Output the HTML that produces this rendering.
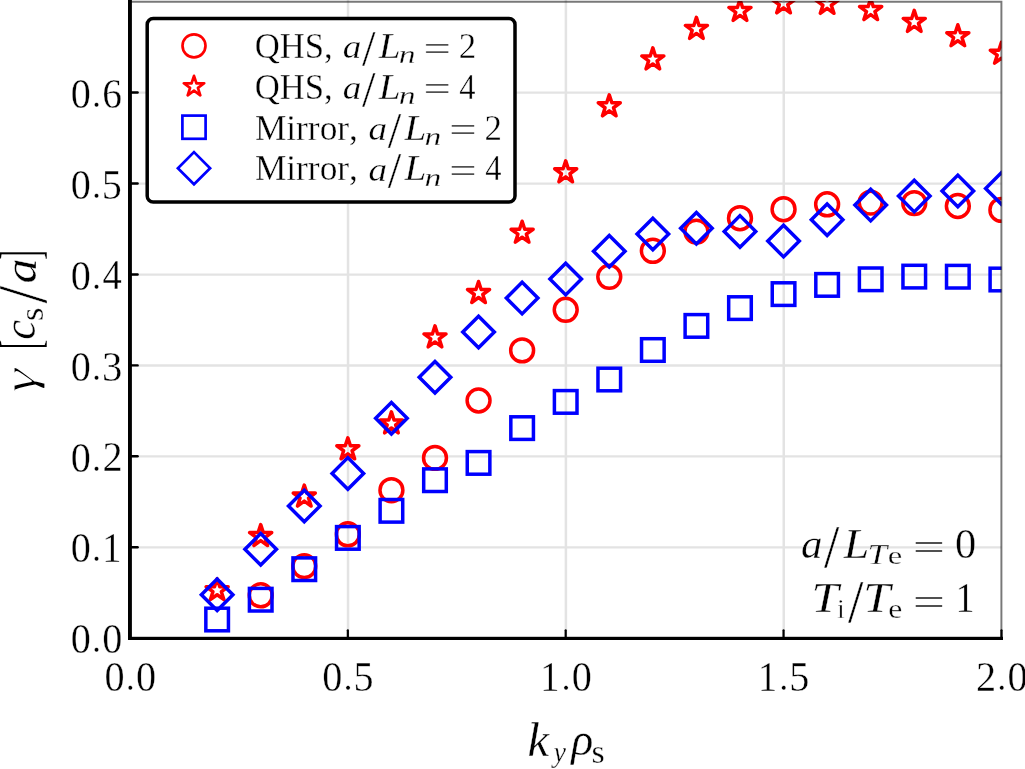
<!DOCTYPE html>
<html><head><meta charset="utf-8"><title>Growth rate plot</title>
<style>html,body{margin:0;padding:0;background:#fff;overflow:hidden}svg{display:block}</style>
</head><body>
<svg width="1025" height="769" viewBox="0 0 1025 769">
<defs><clipPath id="ax"><rect x="130.00" y="1.0" width="871.50" height="637.20"/></clipPath></defs>
<rect width="1025" height="769" fill="#fff"/>
<g font-family="'Liberation Serif', serif" fill="#000" style="font-kerning:none">
<line x1="348.05" y1="0" x2="348.05" y2="638.20" stroke="#e3e3e3" stroke-width="2.5"/>
<line x1="565.90" y1="0" x2="565.90" y2="638.20" stroke="#e3e3e3" stroke-width="2.5"/>
<line x1="783.75" y1="0" x2="783.75" y2="638.20" stroke="#e3e3e3" stroke-width="2.5"/>
<line x1="130.00" y1="547.36" x2="1001.40" y2="547.36" stroke="#e3e3e3" stroke-width="2.3"/>
<line x1="130.00" y1="456.42" x2="1001.40" y2="456.42" stroke="#e3e3e3" stroke-width="2.3"/>
<line x1="130.00" y1="365.48" x2="1001.40" y2="365.48" stroke="#e3e3e3" stroke-width="2.3"/>
<line x1="130.00" y1="274.54" x2="1001.40" y2="274.54" stroke="#e3e3e3" stroke-width="2.3"/>
<line x1="130.00" y1="183.60" x2="1001.40" y2="183.60" stroke="#e3e3e3" stroke-width="2.3"/>
<line x1="130.00" y1="92.66" x2="1001.40" y2="92.66" stroke="#e3e3e3" stroke-width="2.3"/>
<g clip-path="url(#ax)">
<circle cx="260.71" cy="595.30" r="11.45" fill="none" stroke="#ff0000" stroke-width="3.5"/>
<circle cx="304.28" cy="566.10" r="11.45" fill="none" stroke="#ff0000" stroke-width="3.5"/>
<circle cx="347.85" cy="534.30" r="11.45" fill="none" stroke="#ff0000" stroke-width="3.5"/>
<circle cx="391.42" cy="490.20" r="11.45" fill="none" stroke="#ff0000" stroke-width="3.5"/>
<circle cx="434.99" cy="457.90" r="11.45" fill="none" stroke="#ff0000" stroke-width="3.5"/>
<circle cx="478.56" cy="400.50" r="11.45" fill="none" stroke="#ff0000" stroke-width="3.5"/>
<circle cx="522.13" cy="350.40" r="11.45" fill="none" stroke="#ff0000" stroke-width="3.5"/>
<circle cx="565.70" cy="309.80" r="11.45" fill="none" stroke="#ff0000" stroke-width="3.5"/>
<circle cx="609.27" cy="276.80" r="11.45" fill="none" stroke="#ff0000" stroke-width="3.5"/>
<circle cx="652.84" cy="250.80" r="11.45" fill="none" stroke="#ff0000" stroke-width="3.5"/>
<circle cx="696.41" cy="231.60" r="11.45" fill="none" stroke="#ff0000" stroke-width="3.5"/>
<circle cx="739.98" cy="218.20" r="11.45" fill="none" stroke="#ff0000" stroke-width="3.5"/>
<circle cx="783.55" cy="209.20" r="11.45" fill="none" stroke="#ff0000" stroke-width="3.5"/>
<circle cx="827.12" cy="204.30" r="11.45" fill="none" stroke="#ff0000" stroke-width="3.5"/>
<circle cx="870.69" cy="202.60" r="11.45" fill="none" stroke="#ff0000" stroke-width="3.5"/>
<circle cx="914.26" cy="203.10" r="11.45" fill="none" stroke="#ff0000" stroke-width="3.5"/>
<circle cx="957.83" cy="206.00" r="11.45" fill="none" stroke="#ff0000" stroke-width="3.5"/>
<circle cx="1001.40" cy="209.90" r="11.45" fill="none" stroke="#ff0000" stroke-width="3.5"/>
<polygon points="217.14,578.70 219.74,586.72 228.17,586.72 221.35,591.67 223.96,599.68 217.14,594.73 210.32,599.68 212.93,591.67 206.11,586.72 214.54,586.72" fill="none" stroke="#ff0000" stroke-width="3.5" stroke-linejoin="round"/>
<polygon points="260.71,524.60 263.31,532.62 271.74,532.62 264.92,537.57 267.53,545.58 260.71,540.63 253.89,545.58 256.50,537.57 249.68,532.62 258.11,532.62" fill="none" stroke="#ff0000" stroke-width="3.5" stroke-linejoin="round"/>
<polygon points="304.28,485.10 306.88,493.12 315.31,493.12 308.49,498.07 311.10,506.08 304.28,501.13 297.46,506.08 300.07,498.07 293.25,493.12 301.68,493.12" fill="none" stroke="#ff0000" stroke-width="3.5" stroke-linejoin="round"/>
<polygon points="347.85,437.80 350.45,445.82 358.88,445.82 352.06,450.77 354.67,458.78 347.85,453.83 341.03,458.78 343.64,450.77 336.82,445.82 345.25,445.82" fill="none" stroke="#ff0000" stroke-width="3.5" stroke-linejoin="round"/>
<polygon points="391.42,411.90 394.02,419.92 402.45,419.92 395.63,424.87 398.24,432.88 391.42,427.93 384.60,432.88 387.21,424.87 380.39,419.92 388.82,419.92" fill="none" stroke="#ff0000" stroke-width="3.5" stroke-linejoin="round"/>
<polygon points="434.99,325.90 437.59,333.92 446.02,333.92 439.20,338.87 441.81,346.88 434.99,341.93 428.17,346.88 430.78,338.87 423.96,333.92 432.39,333.92" fill="none" stroke="#ff0000" stroke-width="3.5" stroke-linejoin="round"/>
<polygon points="478.56,281.50 481.16,289.52 489.59,289.52 482.77,294.47 485.38,302.48 478.56,297.53 471.74,302.48 474.35,294.47 467.53,289.52 475.96,289.52" fill="none" stroke="#ff0000" stroke-width="3.5" stroke-linejoin="round"/>
<polygon points="522.13,221.20 524.73,229.22 533.16,229.22 526.34,234.17 528.95,242.18 522.13,237.23 515.31,242.18 517.92,234.17 511.10,229.22 519.53,229.22" fill="none" stroke="#ff0000" stroke-width="3.5" stroke-linejoin="round"/>
<polygon points="565.70,160.80 568.30,168.82 576.73,168.82 569.91,173.77 572.52,181.78 565.70,176.83 558.88,181.78 561.49,173.77 554.67,168.82 563.10,168.82" fill="none" stroke="#ff0000" stroke-width="3.5" stroke-linejoin="round"/>
<polygon points="609.27,94.80 611.87,102.82 620.30,102.82 613.48,107.77 616.09,115.78 609.27,110.83 602.45,115.78 605.06,107.77 598.24,102.82 606.67,102.82" fill="none" stroke="#ff0000" stroke-width="3.5" stroke-linejoin="round"/>
<polygon points="652.84,47.90 655.44,55.92 663.87,55.92 657.05,60.87 659.66,68.88 652.84,63.93 646.02,68.88 648.63,60.87 641.81,55.92 650.24,55.92" fill="none" stroke="#ff0000" stroke-width="3.5" stroke-linejoin="round"/>
<polygon points="696.41,17.40 699.01,25.42 707.44,25.42 700.62,30.37 703.23,38.38 696.41,33.43 689.59,38.38 692.20,30.37 685.38,25.42 693.81,25.42" fill="none" stroke="#ff0000" stroke-width="3.5" stroke-linejoin="round"/>
<polygon points="739.98,-0.60 742.58,7.42 751.01,7.42 744.19,12.37 746.80,20.38 739.98,15.43 733.16,20.38 735.77,12.37 728.95,7.42 737.38,7.42" fill="none" stroke="#ff0000" stroke-width="3.5" stroke-linejoin="round"/>
<polygon points="783.55,-8.20 786.15,-0.18 794.58,-0.18 787.76,4.77 790.37,12.78 783.55,7.83 776.73,12.78 779.34,4.77 772.52,-0.18 780.95,-0.18" fill="none" stroke="#ff0000" stroke-width="3.5" stroke-linejoin="round"/>
<polygon points="827.12,-7.70 829.72,0.32 838.15,0.32 831.33,5.27 833.94,13.28 827.12,8.33 820.30,13.28 822.91,5.27 816.09,0.32 824.52,0.32" fill="none" stroke="#ff0000" stroke-width="3.5" stroke-linejoin="round"/>
<polygon points="870.69,-1.40 873.29,6.62 881.72,6.62 874.90,11.57 877.51,19.58 870.69,14.63 863.87,19.58 866.48,11.57 859.66,6.62 868.09,6.62" fill="none" stroke="#ff0000" stroke-width="3.5" stroke-linejoin="round"/>
<polygon points="914.26,10.40 916.86,18.42 925.29,18.42 918.47,23.37 921.08,31.38 914.26,26.43 907.44,31.38 910.05,23.37 903.23,18.42 911.66,18.42" fill="none" stroke="#ff0000" stroke-width="3.5" stroke-linejoin="round"/>
<polygon points="957.83,24.70 960.43,32.72 968.86,32.72 962.04,37.67 964.65,45.68 957.83,40.73 951.01,45.68 953.62,37.67 946.80,32.72 955.23,32.72" fill="none" stroke="#ff0000" stroke-width="3.5" stroke-linejoin="round"/>
<polygon points="1001.40,42.20 1004.00,50.22 1012.43,50.22 1005.61,55.17 1008.22,63.18 1001.40,58.23 994.58,63.18 997.19,55.17 990.37,50.22 998.80,50.22" fill="none" stroke="#ff0000" stroke-width="3.5" stroke-linejoin="round"/>
<rect x="205.84" y="608.20" width="22.60" height="22.60" fill="none" stroke="#0000ff" stroke-width="3.5" stroke-linejoin="miter"/>
<rect x="249.41" y="588.40" width="22.60" height="22.60" fill="none" stroke="#0000ff" stroke-width="3.5" stroke-linejoin="miter"/>
<rect x="292.98" y="557.90" width="22.60" height="22.60" fill="none" stroke="#0000ff" stroke-width="3.5" stroke-linejoin="miter"/>
<rect x="336.55" y="526.60" width="22.60" height="22.60" fill="none" stroke="#0000ff" stroke-width="3.5" stroke-linejoin="miter"/>
<rect x="380.12" y="499.50" width="22.60" height="22.60" fill="none" stroke="#0000ff" stroke-width="3.5" stroke-linejoin="miter"/>
<rect x="423.69" y="468.90" width="22.60" height="22.60" fill="none" stroke="#0000ff" stroke-width="3.5" stroke-linejoin="miter"/>
<rect x="467.26" y="451.60" width="22.60" height="22.60" fill="none" stroke="#0000ff" stroke-width="3.5" stroke-linejoin="miter"/>
<rect x="510.83" y="416.80" width="22.60" height="22.60" fill="none" stroke="#0000ff" stroke-width="3.5" stroke-linejoin="miter"/>
<rect x="554.40" y="390.60" width="22.60" height="22.60" fill="none" stroke="#0000ff" stroke-width="3.5" stroke-linejoin="miter"/>
<rect x="597.97" y="368.20" width="22.60" height="22.60" fill="none" stroke="#0000ff" stroke-width="3.5" stroke-linejoin="miter"/>
<rect x="641.54" y="338.70" width="22.60" height="22.60" fill="none" stroke="#0000ff" stroke-width="3.5" stroke-linejoin="miter"/>
<rect x="685.11" y="314.60" width="22.60" height="22.60" fill="none" stroke="#0000ff" stroke-width="3.5" stroke-linejoin="miter"/>
<rect x="728.68" y="296.80" width="22.60" height="22.60" fill="none" stroke="#0000ff" stroke-width="3.5" stroke-linejoin="miter"/>
<rect x="772.25" y="282.80" width="22.60" height="22.60" fill="none" stroke="#0000ff" stroke-width="3.5" stroke-linejoin="miter"/>
<rect x="815.82" y="273.60" width="22.60" height="22.60" fill="none" stroke="#0000ff" stroke-width="3.5" stroke-linejoin="miter"/>
<rect x="859.39" y="268.00" width="22.60" height="22.60" fill="none" stroke="#0000ff" stroke-width="3.5" stroke-linejoin="miter"/>
<rect x="902.96" y="265.30" width="22.60" height="22.60" fill="none" stroke="#0000ff" stroke-width="3.5" stroke-linejoin="miter"/>
<rect x="946.53" y="265.40" width="22.60" height="22.60" fill="none" stroke="#0000ff" stroke-width="3.5" stroke-linejoin="miter"/>
<rect x="990.10" y="268.20" width="22.60" height="22.60" fill="none" stroke="#0000ff" stroke-width="3.5" stroke-linejoin="miter"/>
<polygon points="217.14,578.93 232.91,594.70 217.14,610.47 201.37,594.70" fill="none" stroke="#0000ff" stroke-width="3.5" stroke-linejoin="miter"/>
<polygon points="260.71,533.53 276.48,549.30 260.71,565.07 244.94,549.30" fill="none" stroke="#0000ff" stroke-width="3.5" stroke-linejoin="miter"/>
<polygon points="304.28,490.23 320.05,506.00 304.28,521.77 288.51,506.00" fill="none" stroke="#0000ff" stroke-width="3.5" stroke-linejoin="miter"/>
<polygon points="347.85,457.63 363.62,473.40 347.85,489.17 332.08,473.40" fill="none" stroke="#0000ff" stroke-width="3.5" stroke-linejoin="miter"/>
<polygon points="391.42,402.43 407.19,418.20 391.42,433.97 375.65,418.20" fill="none" stroke="#0000ff" stroke-width="3.5" stroke-linejoin="miter"/>
<polygon points="434.99,361.43 450.76,377.20 434.99,392.97 419.22,377.20" fill="none" stroke="#0000ff" stroke-width="3.5" stroke-linejoin="miter"/>
<polygon points="478.56,316.23 494.33,332.00 478.56,347.77 462.79,332.00" fill="none" stroke="#0000ff" stroke-width="3.5" stroke-linejoin="miter"/>
<polygon points="522.13,282.33 537.90,298.10 522.13,313.87 506.36,298.10" fill="none" stroke="#0000ff" stroke-width="3.5" stroke-linejoin="miter"/>
<polygon points="565.70,263.33 581.47,279.10 565.70,294.87 549.93,279.10" fill="none" stroke="#0000ff" stroke-width="3.5" stroke-linejoin="miter"/>
<polygon points="609.27,235.43 625.04,251.20 609.27,266.97 593.50,251.20" fill="none" stroke="#0000ff" stroke-width="3.5" stroke-linejoin="miter"/>
<polygon points="652.84,218.23 668.61,234.00 652.84,249.77 637.07,234.00" fill="none" stroke="#0000ff" stroke-width="3.5" stroke-linejoin="miter"/>
<polygon points="696.41,212.53 712.18,228.30 696.41,244.07 680.64,228.30" fill="none" stroke="#0000ff" stroke-width="3.5" stroke-linejoin="miter"/>
<polygon points="739.98,215.63 755.75,231.40 739.98,247.17 724.21,231.40" fill="none" stroke="#0000ff" stroke-width="3.5" stroke-linejoin="miter"/>
<polygon points="783.55,225.33 799.32,241.10 783.55,256.87 767.78,241.10" fill="none" stroke="#0000ff" stroke-width="3.5" stroke-linejoin="miter"/>
<polygon points="827.12,203.93 842.89,219.70 827.12,235.47 811.35,219.70" fill="none" stroke="#0000ff" stroke-width="3.5" stroke-linejoin="miter"/>
<polygon points="870.69,189.33 886.46,205.10 870.69,220.87 854.92,205.10" fill="none" stroke="#0000ff" stroke-width="3.5" stroke-linejoin="miter"/>
<polygon points="914.26,180.33 930.03,196.10 914.26,211.87 898.49,196.10" fill="none" stroke="#0000ff" stroke-width="3.5" stroke-linejoin="miter"/>
<polygon points="957.83,175.13 973.60,190.90 957.83,206.67 942.06,190.90" fill="none" stroke="#0000ff" stroke-width="3.5" stroke-linejoin="miter"/>
<polygon points="1001.40,172.63 1017.17,188.40 1001.40,204.17 985.63,188.40" fill="none" stroke="#0000ff" stroke-width="3.5" stroke-linejoin="miter"/>
</g>
<path d="M130.00,1.72 H1001.4 M1001.4,0.75 V638.20" fill="none" stroke="#000" stroke-opacity="0.53" stroke-width="1.95"/>
<line x1="347.85" y1="638" x2="347.85" y2="630.3" stroke="#000" stroke-width="2.2" stroke-linecap="round"/>
<line x1="565.70" y1="638" x2="565.70" y2="630.3" stroke="#000" stroke-width="2.2" stroke-linecap="round"/>
<line x1="783.55" y1="638" x2="783.55" y2="630.3" stroke="#000" stroke-width="2.2" stroke-linecap="round"/>
<line x1="1001.50" y1="638" x2="1001.50" y2="630.3" stroke="#000" stroke-width="2.2" stroke-linecap="round"/>
<line x1="130" y1="547.26" x2="137.6" y2="547.26" stroke="#000" stroke-width="2.4" stroke-linecap="round"/>
<line x1="130" y1="456.32" x2="137.6" y2="456.32" stroke="#000" stroke-width="2.4" stroke-linecap="round"/>
<line x1="130" y1="365.38" x2="137.6" y2="365.38" stroke="#000" stroke-width="2.4" stroke-linecap="round"/>
<line x1="130" y1="274.44" x2="137.6" y2="274.44" stroke="#000" stroke-width="2.4" stroke-linecap="round"/>
<line x1="130" y1="183.50" x2="137.6" y2="183.50" stroke="#000" stroke-width="2.4" stroke-linecap="round"/>
<line x1="130" y1="92.56" x2="137.6" y2="92.56" stroke="#000" stroke-width="2.4" stroke-linecap="round"/>
<rect x="128.0" y="0" width="3.9" height="640.0" fill="#000"/>
<rect x="128.0" y="636.8" width="875.0" height="3.2" fill="#000"/>
<rect x="147.2" y="18.5" width="367.8" height="183.4" rx="6" ry="6" fill="#fff" stroke="#000" stroke-width="3.5"/>
<circle cx="194.00" cy="45.80" r="11.50" fill="none" stroke="#ff0000" stroke-width="2.7"/>
<polygon points="194.00,75.85 196.41,83.28 204.22,83.28 197.91,87.87 200.32,95.30 194.00,90.71 187.68,95.30 190.09,87.87 183.78,83.28 191.59,83.28" fill="none" stroke="#ff0000" stroke-width="2.7" stroke-linejoin="round"/>
<rect x="182.40" y="115.60" width="23.20" height="23.20" fill="none" stroke="#0000ff" stroke-width="2.7" stroke-linejoin="miter"/>
<polygon points="194.00,152.08 210.12,168.20 194.00,184.32 177.88,168.20" fill="none" stroke="#0000ff" stroke-width="2.7" stroke-linejoin="miter"/>
<text transform="matrix(0.34708 0 0 0.36042 254.68 58.20)" font-size="100" stroke="#fff" stroke-width="0.989">QHS,</text>
<text transform="matrix(0.37215 0 0 0.34099 342.79 58.25)" font-size="100" font-style="italic" stroke="#fff" stroke-width="0.982">a</text>
<text transform="matrix(0.48591 0 0 0.49929 361.90 65.21)" font-size="100" stroke="#fff" stroke-width="0.711">/</text>
<text transform="matrix(0.39385 0 0 0.35584 378.76 58.20)" font-size="100" font-style="italic" stroke="#fff" stroke-width="0.934">L</text>
<text transform="matrix(0.33582 0 0 0.25467 398.80 63.30)" font-size="100" font-style="italic" stroke="#fff" stroke-width="1.185">n</text>
<text transform="matrix(0.48567 0 0 0.35600 423.48 60.67)" font-size="100" stroke="#fff" stroke-width="0.832">=</text>
<text transform="matrix(0.34923 0 0 0.35040 458.67 58.20)" font-size="100" stroke="#fff" stroke-width="1.001">2</text>
<text transform="matrix(0.34708 0 0 0.36042 254.68 98.70)" font-size="100" stroke="#fff" stroke-width="0.989">QHS,</text>
<text transform="matrix(0.37215 0 0 0.34099 342.79 98.75)" font-size="100" font-style="italic" stroke="#fff" stroke-width="0.982">a</text>
<text transform="matrix(0.48591 0 0 0.49929 361.90 105.71)" font-size="100" stroke="#fff" stroke-width="0.711">/</text>
<text transform="matrix(0.39385 0 0 0.35584 378.76 98.70)" font-size="100" font-style="italic" stroke="#fff" stroke-width="0.934">L</text>
<text transform="matrix(0.33582 0 0 0.25467 398.80 103.80)" font-size="100" font-style="italic" stroke="#fff" stroke-width="1.185">n</text>
<text transform="matrix(0.48567 0 0 0.35600 423.48 101.17)" font-size="100" stroke="#fff" stroke-width="0.832">=</text>
<text transform="matrix(0.32484 0 0 0.35399 459.37 98.70)" font-size="100" stroke="#fff" stroke-width="1.031">4</text>
<text transform="matrix(0.35337 0 0 0.35126 254.88 139.55)" font-size="100" stroke="#fff" stroke-width="0.993">Mirror,</text>
<text transform="matrix(0.37215 0 0 0.34099 368.59 139.60)" font-size="100" font-style="italic" stroke="#fff" stroke-width="0.982">a</text>
<text transform="matrix(0.48591 0 0 0.49929 387.70 146.56)" font-size="100" stroke="#fff" stroke-width="0.711">/</text>
<text transform="matrix(0.39385 0 0 0.35584 404.56 139.55)" font-size="100" font-style="italic" stroke="#fff" stroke-width="0.934">L</text>
<text transform="matrix(0.33582 0 0 0.25467 424.60 144.65)" font-size="100" font-style="italic" stroke="#fff" stroke-width="1.185">n</text>
<text transform="matrix(0.48567 0 0 0.35600 449.28 142.02)" font-size="100" stroke="#fff" stroke-width="0.832">=</text>
<text transform="matrix(0.34923 0 0 0.35040 484.47 139.55)" font-size="100" stroke="#fff" stroke-width="1.001">2</text>
<text transform="matrix(0.35337 0 0 0.35126 254.88 180.45)" font-size="100" stroke="#fff" stroke-width="0.993">Mirror,</text>
<text transform="matrix(0.37215 0 0 0.34099 368.59 180.50)" font-size="100" font-style="italic" stroke="#fff" stroke-width="0.982">a</text>
<text transform="matrix(0.48591 0 0 0.49929 387.70 187.46)" font-size="100" stroke="#fff" stroke-width="0.711">/</text>
<text transform="matrix(0.39385 0 0 0.35584 404.56 180.45)" font-size="100" font-style="italic" stroke="#fff" stroke-width="0.934">L</text>
<text transform="matrix(0.33582 0 0 0.25467 424.60 185.55)" font-size="100" font-style="italic" stroke="#fff" stroke-width="1.185">n</text>
<text transform="matrix(0.48567 0 0 0.35600 449.28 182.92)" font-size="100" stroke="#fff" stroke-width="0.832">=</text>
<text transform="matrix(0.32484 0 0 0.35399 485.17 180.45)" font-size="100" stroke="#fff" stroke-width="1.031">4</text>
<text transform="matrix(0.40230 0 0 0.42006 104.47 691.30)" font-size="100" stroke="#fff" stroke-width="0.851">0</text>
<text transform="matrix(0.36331 0 0 0.36959 125.76 690.28)" font-size="100" stroke="#fff" stroke-width="0.955">.</text>
<text transform="matrix(0.40230 0 0 0.42006 135.98 691.30)" font-size="100" stroke="#fff" stroke-width="0.851">0</text>
<text transform="matrix(0.40230 0 0 0.42006 322.32 691.30)" font-size="100" stroke="#fff" stroke-width="0.851">0</text>
<text transform="matrix(0.36331 0 0 0.36959 343.61 690.28)" font-size="100" stroke="#fff" stroke-width="0.955">.</text>
<text transform="matrix(0.40115 0 0 0.42654 353.47 691.29)" font-size="100" stroke="#fff" stroke-width="0.846">5</text>
<text transform="matrix(0.38423 0 0 0.41565 540.27 690.80)" font-size="100" stroke="#fff" stroke-width="0.875">1</text>
<text transform="matrix(0.36331 0 0 0.36959 561.46 690.28)" font-size="100" stroke="#fff" stroke-width="0.955">.</text>
<text transform="matrix(0.40230 0 0 0.42006 571.68 691.30)" font-size="100" stroke="#fff" stroke-width="0.851">0</text>
<text transform="matrix(0.38423 0 0 0.41565 758.12 690.80)" font-size="100" stroke="#fff" stroke-width="0.875">1</text>
<text transform="matrix(0.36331 0 0 0.36959 779.31 690.28)" font-size="100" stroke="#fff" stroke-width="0.955">.</text>
<text transform="matrix(0.40115 0 0 0.42654 789.17 691.29)" font-size="100" stroke="#fff" stroke-width="0.846">5</text>
<text transform="matrix(0.40310 0 0 0.41442 976.07 690.80)" font-size="100" stroke="#fff" stroke-width="0.856">2</text>
<text transform="matrix(0.36331 0 0 0.36959 997.16 690.28)" font-size="100" stroke="#fff" stroke-width="0.955">.</text>
<text transform="matrix(0.40230 0 0 0.42006 1007.38 691.30)" font-size="100" stroke="#fff" stroke-width="0.851">0</text>
<text transform="matrix(0.40230 0 0 0.42006 70.69 653.40)" font-size="100" stroke="#fff" stroke-width="0.851">0</text>
<text transform="matrix(0.36331 0 0 0.36959 91.98 652.38)" font-size="100" stroke="#fff" stroke-width="0.955">.</text>
<text transform="matrix(0.40230 0 0 0.42006 102.20 653.40)" font-size="100" stroke="#fff" stroke-width="0.851">0</text>
<text transform="matrix(0.40230 0 0 0.42006 70.69 562.46)" font-size="100" stroke="#fff" stroke-width="0.851">0</text>
<text transform="matrix(0.36331 0 0 0.36959 91.98 561.44)" font-size="100" stroke="#fff" stroke-width="0.955">.</text>
<text transform="matrix(0.38423 0 0 0.41565 102.30 561.96)" font-size="100" stroke="#fff" stroke-width="0.875">1</text>
<text transform="matrix(0.40230 0 0 0.42006 70.69 471.52)" font-size="100" stroke="#fff" stroke-width="0.851">0</text>
<text transform="matrix(0.36331 0 0 0.36959 91.98 470.50)" font-size="100" stroke="#fff" stroke-width="0.955">.</text>
<text transform="matrix(0.40310 0 0 0.41442 102.40 471.02)" font-size="100" stroke="#fff" stroke-width="0.856">2</text>
<text transform="matrix(0.40230 0 0 0.42006 70.69 380.58)" font-size="100" stroke="#fff" stroke-width="0.851">0</text>
<text transform="matrix(0.36331 0 0 0.36959 91.98 379.56)" font-size="100" stroke="#fff" stroke-width="0.955">.</text>
<text transform="matrix(0.40688 0 0 0.42189 101.90 380.57)" font-size="100" stroke="#fff" stroke-width="0.845">3</text>
<text transform="matrix(0.40230 0 0 0.42006 70.69 289.64)" font-size="100" stroke="#fff" stroke-width="0.851">0</text>
<text transform="matrix(0.36331 0 0 0.36959 91.98 288.62)" font-size="100" stroke="#fff" stroke-width="0.955">.</text>
<text transform="matrix(0.38597 0 0 0.42377 102.53 289.14)" font-size="100" stroke="#fff" stroke-width="0.864">4</text>
<text transform="matrix(0.40230 0 0 0.42006 70.69 198.70)" font-size="100" stroke="#fff" stroke-width="0.851">0</text>
<text transform="matrix(0.36331 0 0 0.36959 91.98 197.68)" font-size="100" stroke="#fff" stroke-width="0.955">.</text>
<text transform="matrix(0.40115 0 0 0.42654 101.84 198.69)" font-size="100" stroke="#fff" stroke-width="0.846">5</text>
<text transform="matrix(0.40230 0 0 0.42006 70.69 107.76)" font-size="100" stroke="#fff" stroke-width="0.851">0</text>
<text transform="matrix(0.36331 0 0 0.36959 91.98 106.74)" font-size="100" stroke="#fff" stroke-width="0.955">.</text>
<text transform="matrix(0.39339 0 0 0.42189 102.16 107.75)" font-size="100" stroke="#fff" stroke-width="0.859">6</text>
<text transform="matrix(0.42994 0 0 0.39505 801.02 557.59)" font-size="100" font-style="italic" stroke="#fff" stroke-width="0.848">a</text>
<text transform="matrix(0.55069 0 0 0.60992 824.10 567.20)" font-size="100" stroke="#fff" stroke-width="0.603">/</text>
<text transform="matrix(0.45917 0 0 0.42457 843.84 557.60)" font-size="100" font-style="italic" stroke="#fff" stroke-width="0.792">L</text>
<text transform="matrix(0.35103 0 0 0.29475 867.40 563.90)" font-size="100" font-style="italic" stroke="#fff" stroke-width="1.084">T</text>
<text transform="matrix(0.32692 0 0 0.25574 887.72 563.65)" font-size="100" stroke="#fff" stroke-width="1.201">e</text>
<text transform="matrix(0.57163 0 0 0.37600 912.85 559.98)" font-size="100" stroke="#fff" stroke-width="0.739">=</text>
<text transform="matrix(0.42470 0 0 0.41197 954.88 558.20)" font-size="100" stroke="#fff" stroke-width="0.837">0</text>
<text transform="matrix(0.48745 0 0 0.42151 811.61 612.40)" font-size="100" font-style="italic" stroke="#fff" stroke-width="0.770">T</text>
<text transform="matrix(0.26494 0 0 0.27941 837.14 617.90)" font-size="100" stroke="#fff" stroke-width="1.286">i</text>
<text transform="matrix(0.55429 0 0 0.60543 847.90 621.71)" font-size="100" stroke="#fff" stroke-width="0.604">/</text>
<text transform="matrix(0.48745 0 0 0.42151 863.31 612.40)" font-size="100" font-style="italic" stroke="#fff" stroke-width="0.770">T</text>
<text transform="matrix(0.31612 0 0 0.27445 888.17 618.13)" font-size="100" stroke="#fff" stroke-width="1.185">e</text>
<text transform="matrix(0.57163 0 0 0.40800 912.85 615.65)" font-size="100" stroke="#fff" stroke-width="0.715">=</text>
<text transform="matrix(0.38063 0 0 0.41657 955.55 612.30)" font-size="100" stroke="#fff" stroke-width="0.878">1</text>
<text transform="matrix(0.48640 0 0 0.47993 527.60 755.60)" font-size="100" font-style="italic" stroke="#fff" stroke-width="0.724">k</text>
<text transform="matrix(0.28229 0 0 0.30083 553.46 761.61)" font-size="100" font-style="italic" stroke="#fff" stroke-width="1.200">y</text>
<text transform="matrix(0.45885 0 0 0.45886 571.37 755.43)" font-size="100" font-style="italic" stroke="#fff" stroke-width="0.763">ρ</text>
<text transform="matrix(0.33973 0 0 0.33267 591.61 762.58)" font-size="100" stroke="#fff" stroke-width="1.041">s</text>
<g transform="rotate(-90)"><text transform="matrix(0.61314 0 0 0.46437 -392.81 35.31)" font-size="100" font-style="italic" stroke="#fff" stroke-width="2.413">γ</text></g>
<g transform="rotate(-90)"><text transform="matrix(0.28744 0 0 0.56909 -349.33 39.19)" font-size="100" stroke="#fff" stroke-width="0.817">[</text></g>
<g transform="rotate(-90)"><text transform="matrix(0.44986 0 0 0.45742 -339.68 35.45)" font-size="100" font-style="italic" stroke="#fff" stroke-width="0.772">c</text></g>
<g transform="rotate(-90)"><text transform="matrix(0.35255 0 0 0.33475 -321.15 42.77)" font-size="100" stroke="#fff" stroke-width="1.018">s</text></g>
<g transform="rotate(-90)"><text transform="matrix(0.63708 0 0 0.70409 -303.40 46.11)" font-size="100" stroke="#fff" stroke-width="0.522">/</text></g>
<g transform="rotate(-90)"><text transform="matrix(0.50160 0 0 0.45534 -283.49 35.53)" font-size="100" font-style="italic" stroke="#fff" stroke-width="0.731">a</text></g>
<g transform="rotate(-90)"><text transform="matrix(0.30540 0 0 0.56909 -259.90 39.19)" font-size="100" stroke="#fff" stroke-width="0.800">]</text></g>
</g></svg>
</body></html>
